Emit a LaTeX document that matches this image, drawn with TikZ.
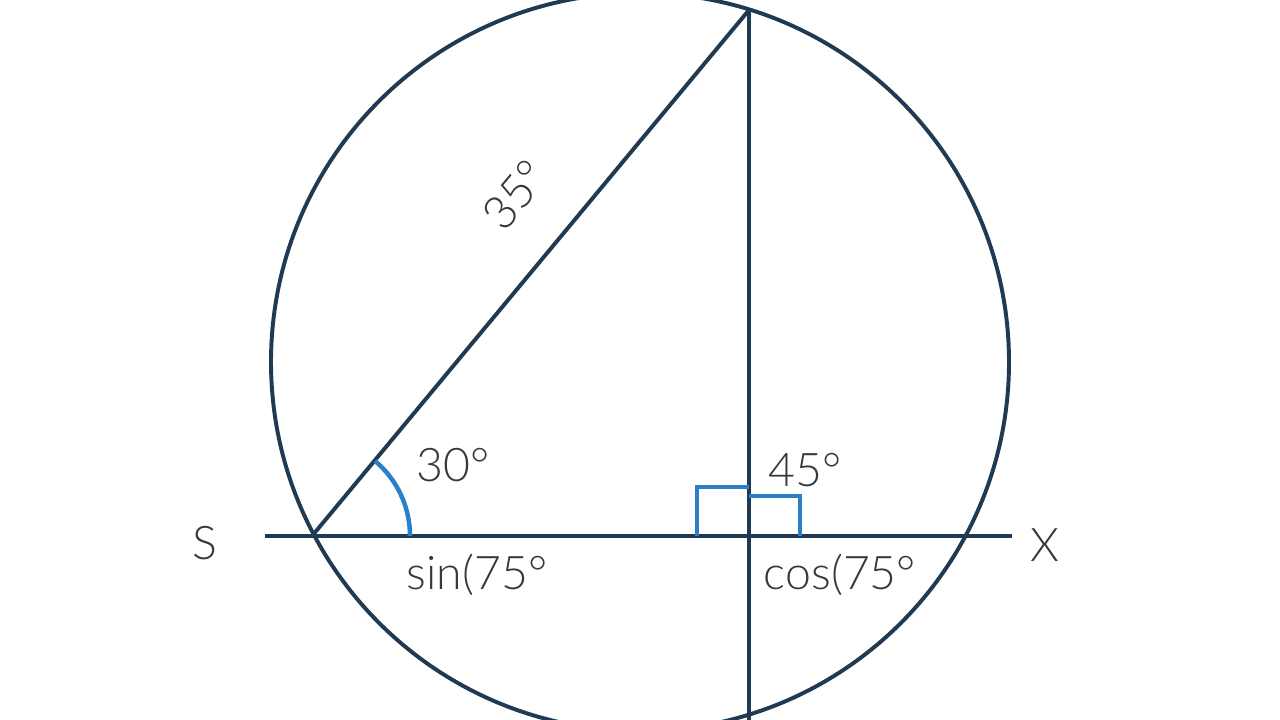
\documentclass[tikz,border=0pt]{standalone}
\usepackage{fontspec}
\setmainfont{Lato Light}
\usetikzlibrary{calc}

\definecolor{navy}{HTML}{1F3A52}
\definecolor{markblue}{HTML}{2A80C8}
\definecolor{labelgray}{HTML}{33393F}

\tikzset{
    geoline/.style={draw=navy, line width=2.8pt},
    markline/.style={draw=markblue, line width=3.2pt},
    lbl/.style={text=labelgray, font=\fontsize{33}{38}\selectfont, inner sep=0pt}
}

\begin{document}
\begin{tikzpicture}[x=0.025cm, y=-0.025cm]
    \useasboundingbox (0,0) rectangle (1280,720);
    \clip (0,0) rectangle (1280,720);

    \coordinate (O) at (640,362);
    \coordinate (A) at (312,536);
    \coordinate (T) at (749,10);
    \coordinate (F) at (749,536);
    \coordinate (B) at (749,730);
    \coordinate (L) at (265,536);
    \coordinate (R) at (1012,536);

    % circle and lines
    \draw[geoline] (O) circle[radius=369];
    \draw[geoline] (L) -- (R);
    \draw[geoline] (T) -- (B);
    \draw[geoline] (A) -- (T);

    % angle mark and right angles
    \draw[markline] ($(A)+(98,0)$) arc[start angle=0, end angle=-50, radius=98];
    \draw[markline] ($(F)+(-52,0)$) -- ($(F)+(-52,-49)$) -- ($(F)+(0,-49)$);
    \draw[markline] ($(F)+(0,-40)$) -- ($(F)+(51,-40)$) -- ($(F)+(51,0)$);

    % labels
    \node[lbl] (s) at (205,543) {S};
    \node[lbl] (x) at (1045,545) {X};
    \node[lbl, rotate=50] (hyp) at (515,195) {35°};
    \node[lbl] (a30) at (453,465) {30°};
    \node[lbl] (a45) at (805,470) {45°};
    \node[lbl] (sn) at (477,575) {sin(75°};
    \node[lbl] (cs) at (840,575) {cos(75°};

\end{tikzpicture}
\end{document}
